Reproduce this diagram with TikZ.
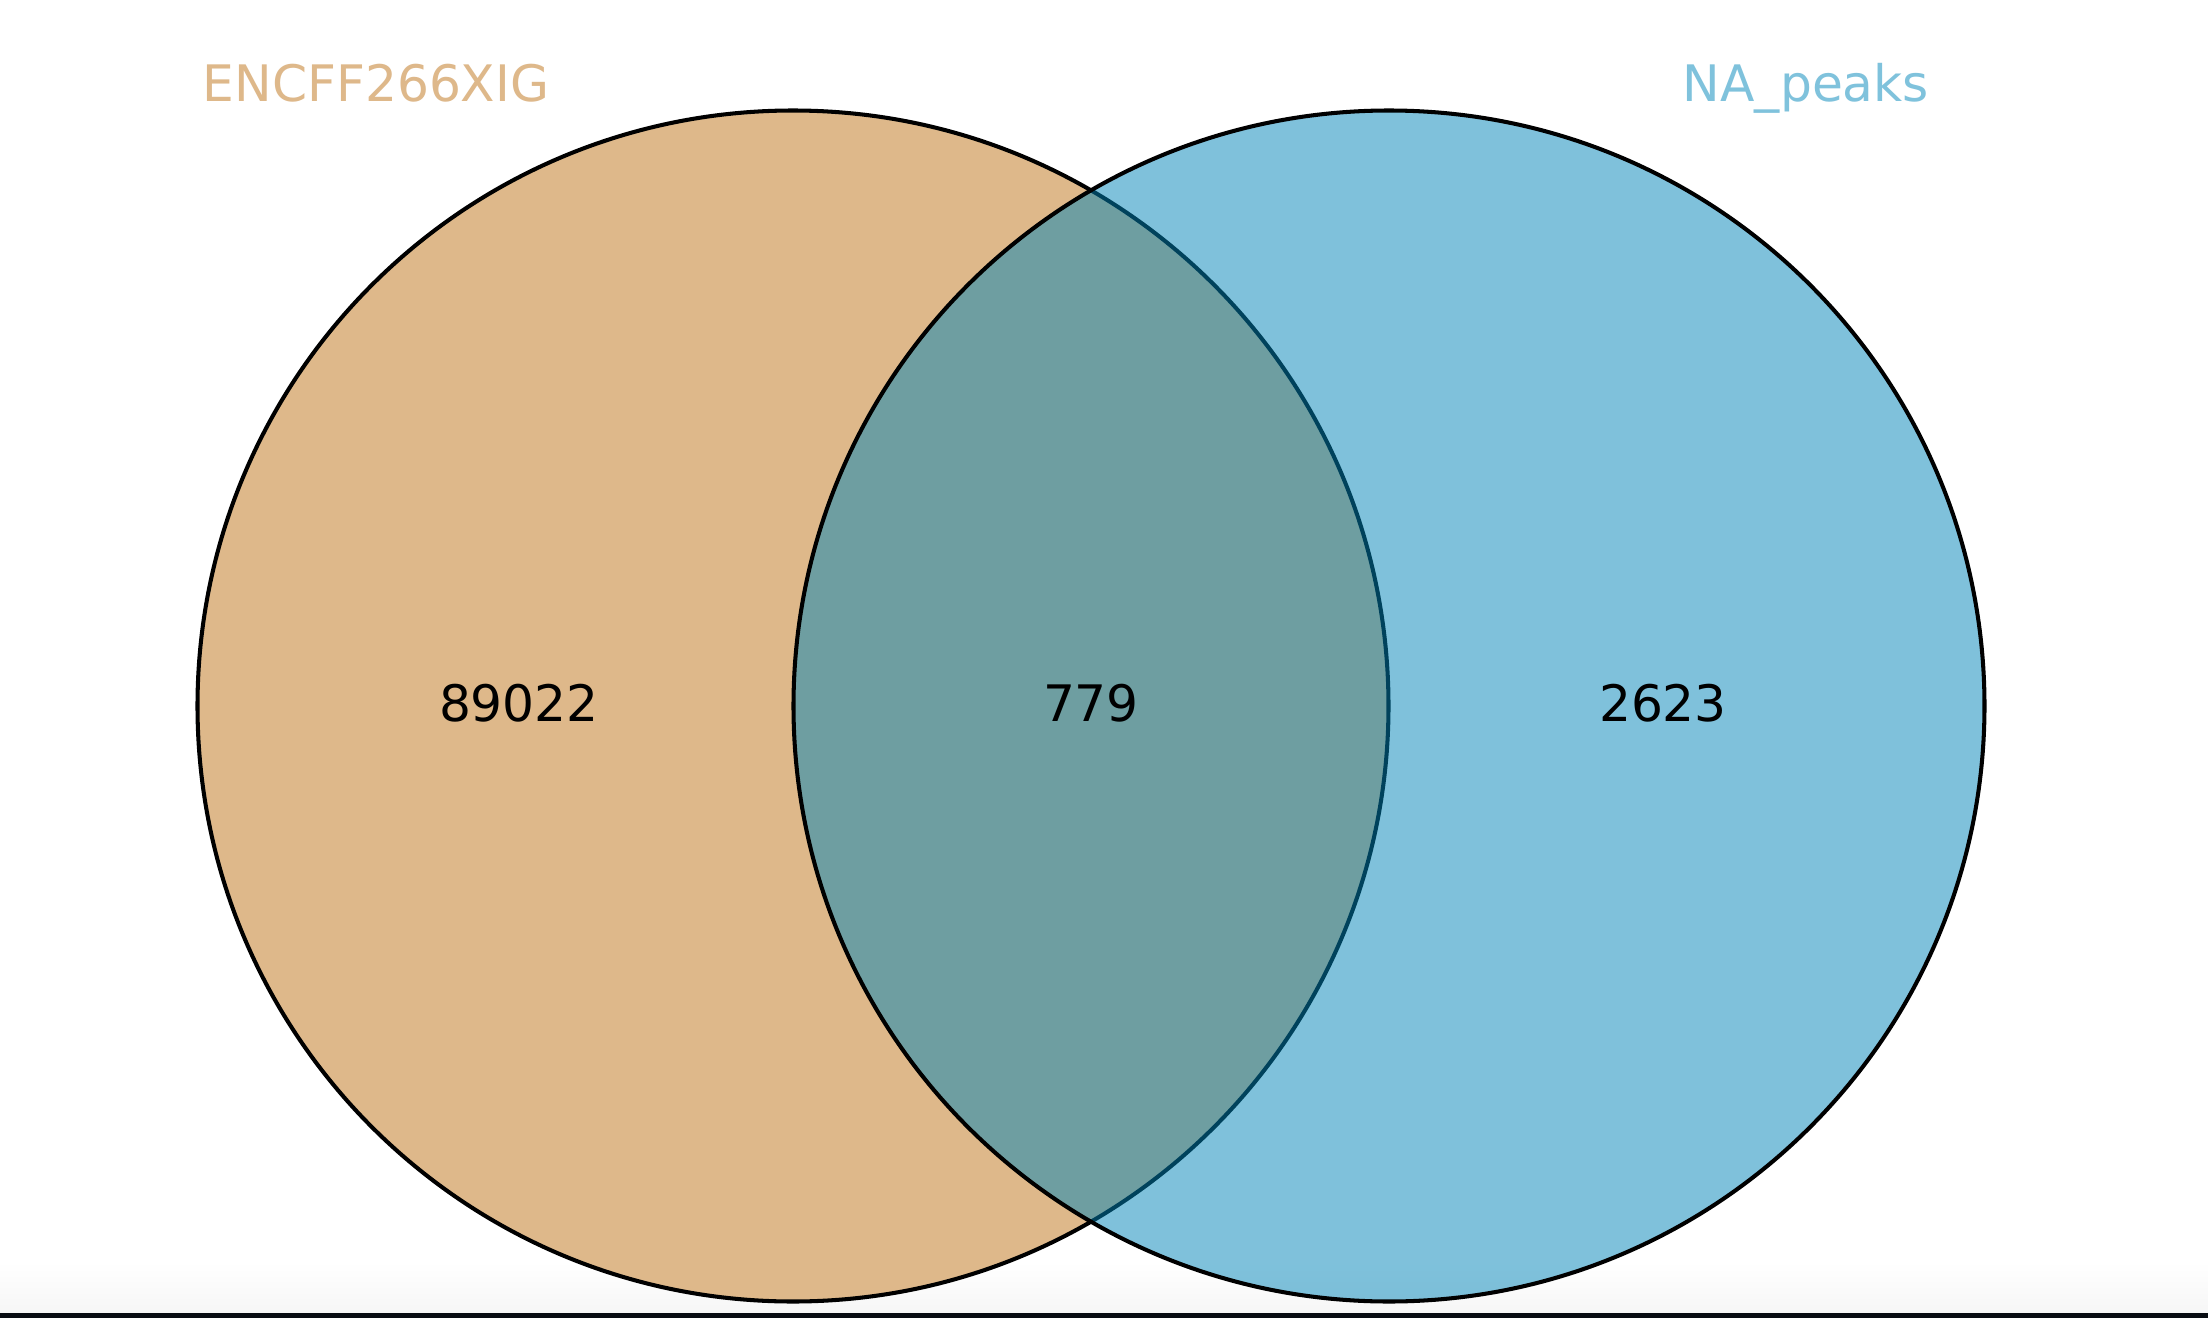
\documentclass[tikz,border=0pt]{standalone}
\usepackage{fontspec}
\setmainfont{DejaVu Sans}
\definecolor{tanc}{RGB}{222,184,138}
\definecolor{bluec}{RGB}{0,133,185}
\definecolor{bluelab}{RGB}{127,194,220}
\definecolor{barc}{RGB}{8,12,18}
\definecolor{greyc}{RGB}{246,246,246}
\begin{document}
\begin{tikzpicture}[x=0.01cm,y=-0.01cm,
  edge/.style={draw=black,line width=1.15pt},
  num/.style={inner sep=0pt,font=\fontsize{14.3}{17}\selectfont,text=black},
  setlabel/.style={inner sep=0pt,anchor=base,font=\fontsize{14.3}{17}\selectfont}]
\useasboundingbox (0,0) rectangle (2208,1318);
\fill[white] (0,0) rectangle (2208,1318);
\shade[top color=white,bottom color=greyc] (0,1262) rectangle (2208,1313);
\fill[barc] (0,1313) rectangle (2208,1318);
\coordinate (cl) at (793,706);
\coordinate (cr) at (1389,706);
\fill[tanc] (cl) circle[radius=595.5];
\draw[edge] (cl) circle[radius=595.5];
\fill[bluec,fill opacity=0.5] (cr) circle[radius=595.5];
\draw[edge] (cr) circle[radius=595.5];
\node[num] (a) at (519,703) {89022};
\node[num] (ab) at (1091,703) {779};
\node[num] (b) at (1663,703) {2623};
\node[setlabel,text=tanc] (la) at (376,101) {ENCFF266XIG};
\node[setlabel,text=bluelab] (lb) at (1806,101) {NA\_peaks};
\end{tikzpicture}
\end{document}
